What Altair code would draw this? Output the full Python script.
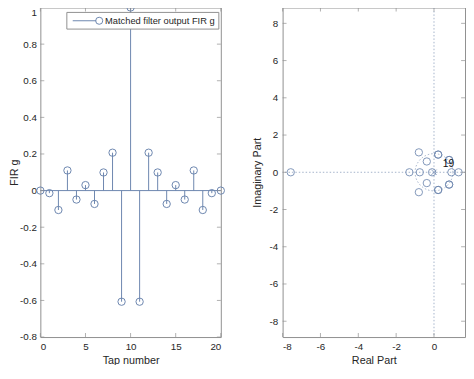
import altair as alt
import pandas as pd

# ---------------- data ----------------
taps = list(range(21))
fir_g = [0.0, -0.014, -0.106, 0.11, -0.049, 0.03, -0.073, 0.099, 0.207, -0.607, 1.0,
         -0.607, 0.207, 0.099, -0.073, 0.03, -0.049, 0.11, -0.106, -0.014, 0.0]
series_name = "Matched filter output FIR g"

zero_re = [-7.57, -1.30, -0.75, -0.10, 0.92, 1.30,
           -0.80, -0.80, -0.38, -0.38, 0.22, 0.22, 0.22, 0.22, 0.80, 0.80, 0.80, 0.80]
zero_im = [0.0, 0.0, 0.0, 0.0, 0.0, 0.0,
           1.07, -1.07, 0.58, -0.58, 0.95, -0.95, 0.95, -0.95, 0.66, -0.66, 0.66, -0.66]
pole_re = [0.0]
pole_im = [0.0]
pole_mult = ["19"]

left_xticks = [0, 5, 10, 15, 20]
left_yticks = [-0.8, -0.6, -0.4, -0.2, 0, 0.2, 0.4, 0.6, 0.8, 1]
right_xticks = [-8, -6, -4, -2, 0]
right_yticks = [-8, -6, -4, -2, 0, 2, 4, 6, 8]

# ---------------- style ----------------
BLUE = "#6c86ae"
GRAY = "#8f8f8f"
TXT = "#262626"
FONT = "Liberation Sans"
LW, RW, H = 184, 186, 336
TL = 4  # tick length

lab_expr = "'' + datum.value"

stem_df = pd.DataFrame({"tap": taps, "g": fir_g})

lx = alt.Scale(domain=[0, 20], nice=False, zero=False)
ly = alt.Scale(domain=[-0.8, 1], nice=False, zero=False)

x_left = alt.X("tap:Q", scale=lx,
               axis=alt.Axis(values=left_xticks, title="Tap number", labelExpr=lab_expr,
                             labelPadding=5, titlePadding=3))
y_left = alt.Y("g:Q", scale=ly,
               axis=alt.Axis(values=left_yticks, title="FIR g", labelExpr=lab_expr,
                             titlePadding=0, labelPadding=4,
                             labelBaseline=alt.condition("datum.value == 1",
                                                         alt.value("top"), alt.value("middle"))))

baseline = alt.Chart(pd.DataFrame({"tap": [0], "tap2": [20], "g": [0]})).mark_rule(
    color=BLUE, strokeWidth=1).encode(x=x_left, x2="tap2:Q", y=y_left)

stems = alt.Chart(stem_df).mark_rule(color=BLUE, strokeWidth=1).encode(
    x=x_left, y=y_left, y2=alt.datum(0))

circles = alt.Chart(stem_df).mark_point(
    filled=False, size=56, strokeWidth=1, opacity=1, color=BLUE).encode(x=x_left, y=y_left)

# legend (drawn inside the left panel, like MATLAB)
leg_df = pd.DataFrame({"label": [series_name]})
BX0, BX1, BY0, BY1 = LW - 157, LW - 2, 5, 22
leg_box = alt.Chart(leg_df).mark_rect(fill="white", stroke=GRAY, strokeWidth=1).encode(
    x=alt.value(BX0), x2=alt.value(BX1), y=alt.value(BY0), y2=alt.value(BY1))
leg_line = alt.Chart(leg_df).mark_rule(color=BLUE, strokeWidth=1).encode(
    x=alt.value(BX0 + 6), x2=alt.value(BX0 + 30), y=alt.value((BY0 + BY1) / 2))
leg_pt = alt.Chart(leg_df).mark_point(filled=False, size=52, strokeWidth=1, color=BLUE, opacity=1).encode(
    x=alt.value(BX0 + 33), y=alt.value((BY0 + BY1) / 2))
leg_txt = alt.Chart(leg_df).mark_text(align="left", baseline="middle", font=FONT, fontSize=9.5,
                                      color=TXT).encode(
    x=alt.value(BX0 + 39), y=alt.value((BY0 + BY1) / 2 + 0.5), text="label:N")


def tick_layers(xvals, yvals, xname, yname, xenc, yenc, w, h):
    ty = pd.DataFrame({yname: yvals})
    tx = pd.DataFrame({xname: xvals})
    out = []
    for xpos in (TL / 2, w - TL / 2):
        out.append(alt.Chart(ty).mark_tick(orient="horizontal", size=TL, thickness=1, color=GRAY)
                   .encode(y=yenc, x=alt.value(xpos)))
    for ypos in (h - TL / 2, TL / 2):
        out.append(alt.Chart(tx).mark_tick(orient="vertical", size=TL, thickness=1, color=GRAY)
                   .encode(x=xenc, y=alt.value(ypos)))
    return out


left = alt.layer(baseline, stems, circles,
                 *tick_layers(left_xticks, left_yticks, "tap", "g", x_left, y_left, LW, H),
                 leg_box, leg_line, leg_pt, leg_txt
                 ).properties(width=LW, height=H)

# ---------------- right panel ----------------
rx = alt.Scale(domain=[-8, 1.64], nice=False, zero=False)
ry = alt.Scale(domain=[-8.85, 8.85], nice=False, zero=False)
x_right = alt.X("re:Q", scale=rx,
                axis=alt.Axis(values=right_xticks, title="Real Part", labelExpr=lab_expr,
                              labelPadding=5, titlePadding=3))
y_right = alt.Y("im:Q", scale=ry,
                axis=alt.Axis(values=right_yticks, title="Imaginary Part", labelExpr=lab_expr,
                              titlePadding=7, labelPadding=5))

DOT = [1.5, 2]
GUIDE = "#a3b3ca"
hline = alt.Chart(pd.DataFrame({"im": [0]})).mark_rule(
    color=GUIDE, strokeDash=DOT, strokeWidth=1).encode(y=y_right)
vline = alt.Chart(pd.DataFrame({"re": [0]})).mark_rule(
    color=GUIDE, strokeDash=DOT, strokeWidth=1).encode(x=x_right)

unit_circle = alt.Chart(alt.sequence(0, 361, 4, as_="deg")).transform_calculate(
    re="cos(datum.deg * PI / 180)", im="sin(datum.deg * PI / 180)"
).mark_line(color=GUIDE, strokeDash=DOT, strokeWidth=1).encode(
    x=x_right, y=y_right, order="deg:Q")

zeros = alt.Chart(pd.DataFrame({"re": zero_re, "im": zero_im})).mark_point(
    filled=False, size=56, strokeWidth=1, color=BLUE, opacity=0.85).encode(x=x_right, y=y_right)

pole_df = pd.DataFrame({"re": pole_re, "im": pole_im, "n": pole_mult})
poles = alt.Chart(pole_df).mark_point(
    shape="M-1,-1L1,1M-1,1L1,-1", size=30, strokeWidth=1, color=BLUE, filled=False
).encode(x=x_right, y=y_right)
pole_text = alt.Chart(pole_df).mark_text(
    align="left", baseline="middle", dx=9, dy=-8, fontSize=10.5, font=FONT, color="#111"
).encode(x=x_right, y=y_right, text="n:N")

right = alt.layer(hline, vline, unit_circle, zeros, poles, pole_text,
                  *tick_layers(right_xticks, right_yticks, "re", "im", x_right, y_right, RW, H)
                  ).properties(width=RW, height=H)

chart = alt.hconcat(left, right, spacing=23).properties(
    padding={"left": 0, "top": -11, "right": 0, "bottom": -5}
).configure_view(stroke=GRAY, strokeWidth=1).configure_axis(
    ticks=False, domain=False, grid=False, labelOverlap=False,
    labelFont=FONT, labelFontSize=10, labelColor=TXT, labelPadding=4,
    titleFont=FONT, titleFontSize=11, titleFontWeight="normal", titleColor=TXT,
    titlePadding=3
)

chart.save("out.html", embed_options={"renderer": "svg", "actions": False})
